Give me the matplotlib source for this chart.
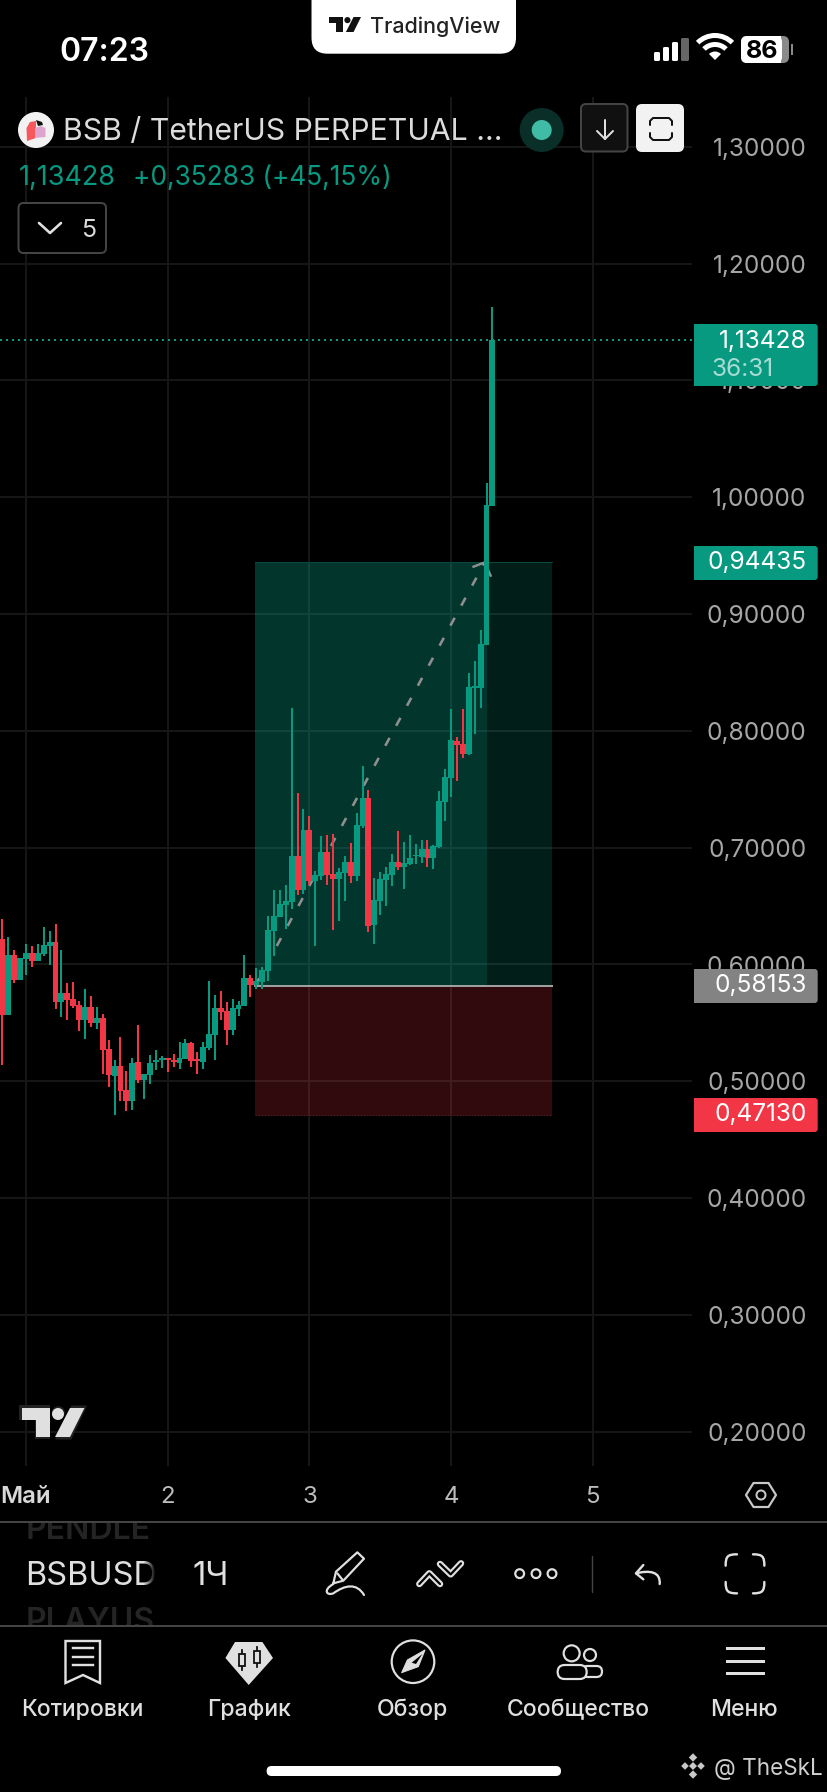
import matplotlib
matplotlib.use("Agg")
import matplotlib.pyplot as plt
from matplotlib.patches import FancyBboxPatch, Rectangle, Circle, Polygon, Wedge, PathPatch
from matplotlib.path import Path

plt.rcParams['font.family'] = ['Inter', 'Roboto', 'DejaVu Sans']

# ---------- data ----------
first_index = -4
opens = [.6219,.5568,.6082,.5868,.6048,.6099,.6030,.6090,.6159,.6193,.5679,.5757,.5705,.5654,.5525,.5637,.5500,.5542,.5277,.5046,
         .5131,.4926,.4832,.5166,.5012,.5054,.5166,.5183,.5200,.5183,.5157,.5191,.5328,.5191,.5166,.5286,.5397,.5628,.5602,.5440,
         .5620,.5645,.5885,.5825,.5851,.5945,.6287,.6407,.6510,.6535,.6929,.6638,.7152,.6715,.6758,.6963,.6775,.6732,.6784,.6878,
         .6758,.7186,.7426,.6338,.6544,.6724,.6766,.6878,.6835,.6861,.6929,.6920,.6989,.6912,.7006,.7391,.7597,.7914,.7888,.7802,
         .8367,.8367,.8736,.9926]
closes = [.5568,.6082,.5868,.6056,.6099,.6030,.6099,.6167,.6193,.5679,.5757,.5697,.5645,.5525,.5637,.5500,.5542,.5268,.5054,.5131,
          .4917,.4832,.5157,.5012,.5063,.5157,.5183,.5200,.5183,.5166,.5200,.5328,.5174,.5174,.5294,.5405,.5628,.5594,.5440,.5628,
          .5654,.5885,.5825,.5859,.5953,.6296,.6416,.6518,.6544,.6929,.6638,.7152,.6715,.6766,.6963,.6766,.6732,.6792,.6878,.6758,
          .7195,.7426,.6330,.6552,.6732,.6775,.6878,.6835,.6869,.6912,.6938,.6989,.6912,.7015,.7400,.7605,.7922,.7879,.7802,.8376,
          .8384,.8744,.9934,1.13428]
highs = [.6390,.6236,.6125,.6056,.6176,.6159,.6176,.6322,.6287,.6347,.6125,.5842,.5851,.5688,.5791,.5731,.5637,.5577,.5354,.5183,
         .5380,.5089,.5200,.5483,.5063,.5226,.5268,.5217,.5200,.5234,.5337,.5363,.5337,.5251,.5337,.5859,.5739,.5774,.5679,.5705,
         .5688,.6082,.5911,.5971,.5979,.6416,.6638,.6638,.6681,.8196,.7469,.7331,.7272,.6801,.7100,.7109,.7117,.6826,.6929,.7040,
         .7297,.7700,.7494,.6741,.6792,.6835,.6946,.7143,.7049,.7109,.7032,.7066,.7066,.7023,.7486,.7674,.8188,.7948,.8188,.8496,
         .8599,.8864,1.0123,1.1629]
lows = [.5140,.5568,.5842,.5868,.5911,.5979,.6030,.6073,.5996,.5620,.5551,.5525,.5628,.5431,.5363,.5465,.5448,.5063,.4952,.4712,
        .4832,.4746,.4755,.4986,.4849,.4977,.5097,.5114,.5080,.5123,.5106,.5191,.5123,.5063,.5106,.5268,.5183,.5525,.5311,.5397,
        .5560,.5645,.5722,.5791,.5791,.5859,.6073,.6407,.6304,.6475,.6595,.6604,.6681,.6159,.6724,.6681,.6295,.6373,.6544,.6698,
        .6715,.7169,.6278,.6176,.6424,.6501,.6672,.6809,.6647,.6852,.6861,.6869,.6835,.6818,.6998,.7229,.7434,.7571,.7768,.7794,
        .7973,.8196,.8736,.9926]

price_ticks = [0.2, 0.3, 0.4, 0.5, 0.6, 0.7, 0.8, 0.9, 1.0, 1.1, 1.2, 1.3]
day_ticks = [0, 24, 48, 72, 96]
day_labels = ['Май', '2', '3', '4', '5']
last_price = 1.13428
target_price = 0.94435
entry_price = 0.58153
stop_price = 0.47130

GREEN = '#089981'
RED = '#F23645'
W, H = 828, 1792
def fs(px):
    return px * 0.72

fig = plt.figure(figsize=(W / 100, H / 100), dpi=100, facecolor='black')

# ---------- chart axes ----------
top, bottom, right = 97, 1466, 692
ax = fig.add_axes([0, 1 - bottom / H, right / W, (bottom - top) / H], facecolor='black')
ax.set_xlim(-26 / 5.904, (right - 26) / 5.904)
ax.set_ylim(0.2 + (1431.7 - bottom) / 1168, 0.2 + (1431.7 - top) / 1168)
for s in ax.spines.values():
    s.set_visible(False)
ax.yaxis.tick_right()
ax.set_yticks(price_ticks)
ax.set_yticklabels([f'{p:.5f}'.replace('.', ',') for p in price_ticks])
ax.set_xticks(day_ticks)
ax.set_xticklabels(day_labels)
ax.tick_params(axis='y', length=0, pad=(806.7 - right) * 0.72, labelsize=fs(24.5), labelcolor='#a6a6a6')
ax.tick_params(axis='x', length=0, pad=fs(20), labelsize=fs(24), labelcolor='#bdbdbd')
for t in ax.get_yticklabels():
    t.set_ha('right')
ax.get_xticklabels()[0].set_fontweight('semibold')
ax.get_xticklabels()[0].set_color('#d8d8d8')
ax.grid(True, color='#161616', lw=fs(2), zorder=1)
ax.set_axisbelow(True)

# position tool
ax.add_patch(Rectangle((38.79, entry_price), 89.1 - 38.79, target_price - entry_price, fc=GREEN, alpha=.2, lw=0, zorder=2))
ax.add_patch(Rectangle((38.79, entry_price), 78.08 - 38.79, target_price - entry_price, fc=GREEN, alpha=.2, lw=0, zorder=2))
ax.add_patch(Rectangle((38.79, stop_price), 89.1 - 38.79, entry_price - stop_price, fc=RED, alpha=.2, lw=0, zorder=2))
ax.plot([38.79, 89.1], [target_price] * 2, color='#0a4a40', lw=fs(1), zorder=2.5)
ax.plot([38.79, 89.1], [stop_price] * 2, color='#5a1a20', lw=fs(1), ls=(0, (2, 1)), zorder=2.5)
ax.plot([38.79, 89.1], [entry_price] * 2, color='#a0a0a0', lw=fs(2), zorder=2.6)

# dashed arrow of the position tool
ax.plot([38.79, 77.7], [entry_price, 0.9443], color='#8f8f8f', lw=fs(2.6), ls=(0, (3.46, 5.3)), zorder=2.7)
ax.plot([75.8, 77.7, 78.7], [0.9406, 0.9443, 0.9329], color='#8f8f8f', lw=fs(2.4), zorder=2.7)

# current price line
ax.plot(ax.get_xlim(), [last_price] * 2, color=GREEN, lw=fs(2), ls=(0, (1, 2)), zorder=2.8)

# candles
idx = [first_index + i for i in range(len(opens))]
colors = [GREEN if c >= o else RED for o, c in zip(opens, closes)]
ax.vlines(idx, lows, highs, colors=colors, lw=fs(2), zorder=3)
ax.bar(idx, [abs(c - o) for o, c in zip(opens, closes)], bottom=[min(o, c) for o, c in zip(opens, closes)],
       width=1.0, color=colors, lw=0, zorder=3.1)

# ---------- overlay UI, pixel coordinates ----------
ui = fig.add_axes([0, 0, 1, 1], facecolor='none')
ui.set_xlim(0, W)
ui.set_ylim(H, 0)
ui.axis('off')

def txt(x, y, s, px, color='#e0e0e0', ha='left', va='baseline', weight='normal', z=10, **kw):
    return ui.text(x, y, s, fontsize=fs(px), color=color, ha=ha, va=va, fontweight=weight, zorder=z, **kw)

def rbox(x0, y0, x1, y1, r, fc, ec='none', lw=0, z=5):
    p = FancyBboxPatch((x0, y0), x1 - x0, y1 - y0, boxstyle=f'round,pad=0,rounding_size={r}', fc=fc, ec=ec, lw=fs(lw), zorder=z)
    ui.add_patch(p)
    return p

def line(xs, ys, color='#e0e0e0', lw=2.2, z=8, **kw):
    ui.plot(xs, ys, color=color, lw=fs(lw), zorder=z, solid_capstyle='round', solid_joinstyle='round', **kw)

def curve(verts, color='#e0e0e0', lw=2.2, z=8):
    codes = [Path.MOVETO] + [Path.CURVE4] * (len(verts) - 1)
    ui.add_patch(PathPatch(Path(verts, codes), fc='none', ec=color, lw=fs(lw), zorder=z, capstyle='round'))

def tv_logo(x, y, w, h, color, z=8):
    sx, sy = w / 62.5, h / 29
    ui.add_patch(Polygon([(x, y), (x + 28 * sx, y), (x + 28 * sx, y + 29 * sy), (x + 14 * sx, y + 29 * sy),
                          (x + 14 * sx, y + 12 * sy), (x, y + 12 * sy)], fc=color, lw=0, zorder=z))
    ui.add_patch(Circle((x + 36 * sx, y + 6 * sy), 6 * sx, fc=color, lw=0, zorder=z))
    ui.add_patch(Polygon([(x + 48 * sx, y), (x + 62.5 * sx, y), (x + 48 * sx, y + 29 * sy), (x + 33 * sx, y + 29 * sy)],
                         fc=color, lw=0, zorder=z))

# price label boxes
def price_box(y0, y1, color):
    rbox(694, y0, 817.7, y1, 3, color)
    ui.add_patch(Rectangle((694, y0), 10, y1 - y0, fc=color, lw=0, zorder=5))

def fmt(p):
    return f'{p:.5f}'.replace('.', ',')

price_box(324, 386, GREEN)
txt(806.7, 348.3, fmt(last_price), 24.5, '#ffffff', ha='right')
txt(711.7, 376, '36:31', 24.5, '#a8dcd2')
price_box(546, 580, GREEN)
txt(806.7, 569.3, fmt(target_price), 24.5, '#ffffff', ha='right')
price_box(969, 1003, '#838383')
txt(806.7, 992.3, fmt(entry_price), 24.5, '#ffffff', ha='right')
price_box(1098, 1132, RED)
txt(806.7, 1121.3, fmt(stop_price), 24.5, '#ffffff', ha='right')

# status bar
txt(59, 61, '07:23', 32, '#ffffff', weight='semibold')
rbox(311.5, -30, 516, 53.7, 16, '#ffffff')
tv_logo(329, 17, 32, 15, '#111111', z=8)
txt(370, 33, 'TradingView', 21.5, '#222222', weight='medium')
for x0, x1, h, c in [(654, 660, 9, '#fff'), (663, 669, 14, '#fff'), (672, 678, 19, '#fff'), (681, 689, 23, '#666')]:
    rbox(x0, 61 - h, x1, 61, 1.5, c)
ui.add_patch(Wedge((715, 60), 27, 225, 315, width=5, fc='#fff', lw=0, zorder=6))
ui.add_patch(Wedge((715, 60), 18, 225, 315, width=5, fc='#fff', lw=0, zorder=6))
ui.add_patch(Wedge((715, 60), 8.5, 225, 315, fc='#fff', lw=0, zorder=6))
rbox(741, 36, 789, 63, 6, '#8a8a8a')
rbox(741, 36, 782, 63, 6, '#ffffff', z=5.1)
ui.add_patch(Rectangle((772, 36), 9, 27, fc='#fff', lw=0, zorder=5.2))
ui.add_patch(Rectangle((791, 44), 2.5, 11, fc='#8a8a8a', lw=0, zorder=5))
txt(762, 58, '86', 25, '#000000', ha='center', weight='bold')

# header
ui.add_patch(Circle((36, 130), 18, fc='#f2f2f2', lw=0, zorder=6))
ui.add_patch(Polygon([(27, 141), (26.5, 128), (30, 122), (36, 121), (36, 138)], fc='#f8575c', lw=0, zorder=7))
ui.add_patch(Polygon([(35, 138), (35, 128), (41, 126), (45.5, 128), (45.5, 137)], fc='#dca4cf', lw=0, zorder=7))
ui.add_patch(Polygon([(36, 120), (42, 122), (43, 125), (38, 126)], fc='#111', lw=0, zorder=7))
txt(63, 140, 'BSB / TetherUS PERPETUAL ...', 30.2, '#dcdcdc')
txt(19, 185, '1,13428', 27, GREEN)
txt(133, 185, '+0,35283 (+45,15%)', 26.3, GREEN)
rbox(18.5, 203, 106, 253, 5, 'black', ec='#444444', lw=2)
line([39, 50, 61], [223, 233, 223], lw=2.6)
txt(88.7, 237, '5', 25, '#dcdcdc', ha='center')
ui.add_patch(Circle((541.7, 130), 22, fc='#0a2e28', lw=0, zorder=6))
ui.add_patch(Circle((541.7, 130), 10, fc='#40BBA5', lw=0, zorder=7))
rbox(581, 104, 627.5, 151.5, 5, '#101010', ec='#444444', lw=2)
line([605, 605], [120, 139], lw=2)
line([597, 605, 613], [131, 139, 131], lw=2)
rbox(636, 104, 684, 152, 6, '#f2f2f2')
line([650, 650, 653, 672 - 3, 672, 672], [125, 121, 118, 118, 121, 125], color='#111', lw=2)
line([650, 650, 653, 672 - 3, 672, 672], [133, 137, 140, 140, 137, 133], color='#111', lw=2)

# chart logo
tv_logo(19.5, 1405.5, 67.5, 34, '#222222', z=7)
tv_logo(22, 1408, 62.5, 29, '#e0e0e0', z=8)

# settings hexagon
ui.add_patch(Polygon([(746, 1495), (753.5, 1483), (768.5, 1483), (776, 1495), (768.5, 1507), (753.5, 1507)],
                     fc='none', ec='#c8c8c8', lw=fs(2.2), zorder=8, joinstyle='round'))
ui.add_patch(Circle((761, 1495), 4.5, fc='none', ec='#c8c8c8', lw=fs(2), zorder=8))

# toolbar
line([0, W], [1522.3, 1522.3], '#555555', 1.6)
line([0, W], [1626.3, 1626.3], '#555555', 1.6)
clip1 = Rectangle((0, 1523.5), 156, 102, transform=ui.transData)
for y, s in [(1539, 'PENDLE'), (1631, 'PLAYUSD')]:
    t = txt(25.3, y, s, 32, '#242424', weight='semibold')
    t.set_clip_on(True)
    t.set_clip_path(clip1)
t = txt(25.3, 1585, 'BSBUSD', 32.5, '#e0e0e0')
t.set_clip_on(True)
t.set_clip_path(clip1)
for i in range(12):
    ui.add_patch(Rectangle((144 + i, 1555), 1.05, 40, fc='black', alpha=min(1, (i + 1) / 12), lw=0, zorder=11))
txt(193, 1585, '1Ч', 33, '#e0e0e0')

def zx(z):
    return 300 + z / 3
def zy(z):
    return 1510 + z / 3
# pen
pen = [(100, 220), (108, 185), (172, 127), (192, 146), (130, 212), (100, 220)]
line([zx(p[0]) for p in pen], [zy(p[1]) for p in pen])
line([zx(112), zx(128)], [zy(190), zy(210)])
curve([(zx(192), zy(255)), (zx(170), zy(218)), (zx(135), zy(225)), (zx(100), zy(250)),
       (zx(80), zy(258)), (zx(68), zy(240)), (zx(100), zy(222))])
# chevrons (outlined)
for xs_, ys_ in [([358, 388, 420], [222, 190, 222]), ([420, 452, 483], [162, 193, 160])]:
    line([zx(v) for v in xs_], [zy(v) for v in ys_], lw=6.5, z=8)
    line([zx(v) for v in xs_], [zy(v) for v in ys_], color='black', lw=2.2, z=8.1)
# dots
for z_ in [659, 708, 756]:
    ui.add_patch(Circle((zx(z_), zy(191)), 4.4, fc='none', ec='#e0e0e0', lw=fs(2.2), zorder=8))
line([592.3, 592.3], [1556, 1592], '#444444', 1.4)
# undo
line([zx(1030), zx(1008), zx(1030)], [zy(165), zy(190), zy(208)], lw=2.4)
curve([(zx(1008), zy(190)), (zx(1050), zy(180)), (zx(1082), zy(185)), (zx(1079), zy(222))], lw=2.4)
# fullscreen
for (cx, cy, sx, sy) in [(1277, 133, 1, 1), (1393, 133, -1, 1), (1277, 250, 1, -1), (1393, 250, -1, -1)]:
    verts = [(zx(cx), zy(cy + sy * 34)), (zx(cx), zy(cy + sy * 6)), (zx(cx + sx * 6), zy(cy)), (zx(cx + sx * 34), zy(cy))]
    curve(verts, lw=2.4)

# bottom nav
ui.add_patch(Polygon([(65.5, 1641), (100, 1641), (100, 1683), (83, 1675), (65.5, 1683)], fc='none', ec='#e0e0e0',
                     lw=fs(2.4), zorder=8, joinstyle='miter'))
for y in [1648, 1657, 1665]:
    ui.plot([73, 93], [y, y], color='#e0e0e0', lw=fs(2.4), zorder=8)
ui.add_patch(Polygon([(235, 1642), (262.4, 1642), (273, 1658), (248.7, 1685), (225.4, 1658)], fc='#e0e0e0', lw=0, zorder=8, joinstyle='round'))
for x_, yc in [(242, 1660), (257, 1657)]:
    ui.add_patch(Rectangle((x_ - 3, yc - 6), 6, 12, fc='#e0e0e0', ec='#111111', lw=fs(1.8), zorder=9))
    ui.plot([x_, x_], [yc - 10, yc + 10], color='#111111', lw=fs(1.8), zorder=8.9)
ui.add_patch(Circle((413, 1661.7), 21.3, fc='none', ec='#e0e0e0', lw=fs(2.2), zorder=8))
ui.add_patch(Polygon([(zx(375), zy(420)), (zx(355), zy(470)), (zx(305), zy(488)), (zx(322), zy(450))],
                     fc='#e0e0e0', ec='#e0e0e0', lw=fs(1), zorder=8, joinstyle='round'))
ui.add_patch(Polygon([(zx(367), zy(432)), (zx(348), zy(462)), (zx(335), zy(458))], fc='black', lw=0, zorder=8.2))
ui.add_patch(Circle((zx(815), zy(430)), 8, fc='none', ec='#e0e0e0', lw=fs(2.2), zorder=8))
ui.add_patch(Circle((zx(870), zy(435)), 6, fc='none', ec='#e0e0e0', lw=fs(2.2), zorder=8))
ui.add_patch(FancyBboxPatch((zx(846), zy(468)), 20, 11, boxstyle='round,pad=0,rounding_size=5.5', fc='black', ec='#e0e0e0', lw=fs(2.2), zorder=8))
ui.add_patch(FancyBboxPatch((zx(773), zy(465)), 29, 14, boxstyle='round,pad=0,rounding_size=7', fc='black', ec='#e0e0e0', lw=fs(2.2), zorder=8.1))
for y in [1648, 1661, 1673]:
    ui.plot([727, 763], [y, y], color='#e0e0e0', lw=fs(3), zorder=8)
for x_, s in [(82, 'Котировки'), (248.7, 'График'), (412, 'Обзор'), (578, 'Сообщество'), (744.5, 'Меню')]:
    txt(x_, 1716, s, 23, '#e0e0e0', ha='center', weight='medium')

# home indicator + watermark
rbox(266.6, 1766, 561, 1776, 5, '#ffffff')
for (cx, cy, r) in [(693, 1766, 4), (693, 1757.5, 4.2), (693, 1774.5, 4.2), (685, 1766, 3.8), (701, 1766, 3.8)]:
    ui.add_patch(Polygon([(cx - r, cy), (cx, cy - r), (cx + r, cy), (cx, cy + r)], fc='#c8c8c8', lw=0, zorder=8))
txt(714, 1775, '@ TheSkL', 22.5, '#cfcfcf')

fig.savefig('out.png', dpi=100, facecolor='black')
